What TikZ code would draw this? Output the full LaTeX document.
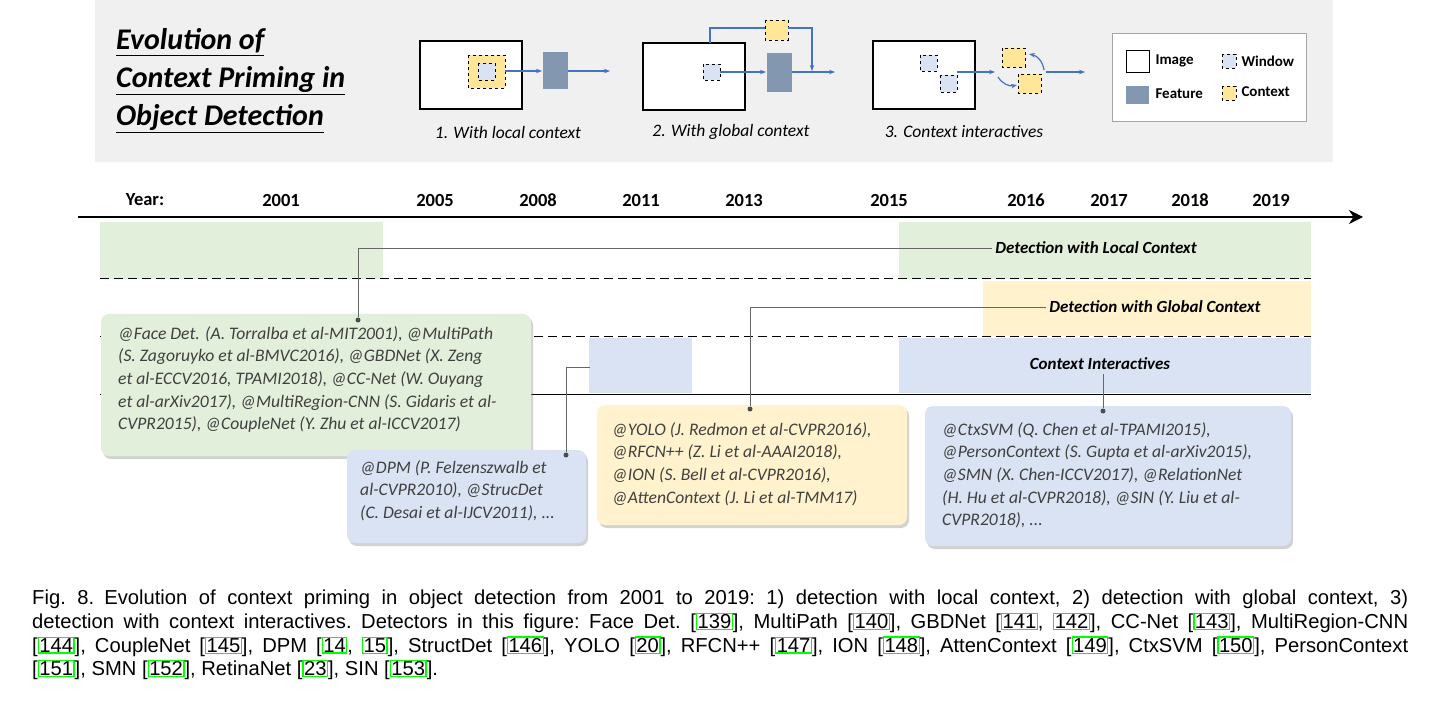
\documentclass[tikz,border=0pt]{standalone}
\usepackage{fontspec}
\setmainfont{Carlito}
\newfontfamily\capfont{Liberation Sans}
\usetikzlibrary{arrows.meta,shadows}
\definecolor{panelbg}{HTML}{F0F0F0}
\definecolor{lgreen}{HTML}{E2EFDA}
\definecolor{lyellow}{HTML}{FFF2CC}
\definecolor{lblue}{HTML}{DAE3F3}
\definecolor{feat}{HTML}{8497B0}
\definecolor{arrblue}{HTML}{4472C4}
\definecolor{ctx}{HTML}{FFE699}
\definecolor{txtgray}{HTML}{404040}
\definecolor{citegreen}{HTML}{00FF00}
\newcommand\rf[1]{\begingroup\setlength\fboxsep{0.3pt}\setlength\fboxrule{1.3pt}\textcolor{citegreen}{\fbox{\textcolor{black}{#1}}}\endgroup}
\tikzset{
 img/.style={draw=black,line width=1.1pt,fill=white},
 win/.style={draw=black,dashed,line width=0.9pt,fill=lblue},
 ctxbox/.style={draw=black,dashed,line width=0.9pt,fill=ctx},
 featbox/.style={fill=feat},
 barr/.style={draw=arrblue,line width=1.2pt,-{Stealth[length=6pt]}},
 yr/.style={font=\bfseries\fontsize{18.5}{20}\selectfont},
 card/.style={rounded corners=8pt,drop shadow={shadow xshift=2pt,shadow yshift=-3pt,opacity=0.35}},
 cardtxt/.style={anchor=north west,align=left,inner sep=0pt,text=txtgray,font=\itshape\fontsize{17.6}{22.7}\selectfont},
 conn/.style={draw=gray!80!black,line width=0.8pt},
 dot/.style={circle,fill=gray!60!black,inner sep=0pt,minimum size=5pt},
 band/.style={font=\bfseries\itshape\fontsize{17}{20}\selectfont},
 sub/.style={font=\itshape\fontsize{17.5}{20}\selectfont},
 leg/.style={anchor=west,font=\bfseries\fontsize{15}{16}\selectfont},
}
\begin{document}
\begin{tikzpicture}[x=1pt,y=-1pt]
\useasboundingbox (0,0) rectangle (1438,711);
\fill[white] (0,0) rectangle (1438,711);
% top panel
\fill[panelbg] (95,0) rectangle (1333,162);
\node[anchor=west,align=left,inner sep=0pt,font=\bfseries\itshape\fontsize{30}{38}\selectfont] (title) at (116,81) {\underline{Evolution of}\\\underline{Context Priming in}\\\underline{Object Detection}};
% panel 1
\draw[img] (420,41) rectangle (522,109);
\draw[ctxbox] (468,55) rectangle (505,88);
\draw[win] (478,63) rectangle (495,80);
\fill[featbox] (543,52) rectangle (568,89);
\coordinate (p1a) at (505,71); \coordinate (p1b) at (542,71);
\draw[barr] (p1a) -- (p1b);
\coordinate (p1c) at (568,71); \coordinate (p1d) at (610,71);
\draw[barr] (p1c) -- (p1d);
\node[sub] (c1) at (508,132) {1. With local context};
% panel 2
\draw[img] (643,43) rectangle (745,110);
\draw[win] (703,64) rectangle (720,80);
\fill[featbox] (767,53) rectangle (792,92);
\draw[ctxbox] (765,20) rectangle (788,40);
\draw[barr] (720,72) -- (766,72);
\draw[barr] (792,72) -- (835,72);
\draw[draw=arrblue,line width=1.2pt] (710,43) -- (710,28) -- (765,28);
\draw[barr] (788,28) -- (812,28) -- (812,71);
\node[sub] (c2) at (731,132) {2. With global context};
% panel 3
\draw[img] (873,41) rectangle (975,109);
\draw[win] (920,55) rectangle (937,71);
\draw[win] (940,75) rectangle (957,92);
\draw[ctxbox] (1002,48) rectangle (1025,67);
\draw[ctxbox] (1018,74) rectangle (1041,93);
\draw[barr] (957,72) -- (995,72);
\draw[barr] (998,77) to[bend right=35] (1017,85);
\draw[barr] (1044,70) to[bend right=35] (1029,54);
\draw[barr] (1046,72) -- (1085,72);
\node[sub] (c3) at (964,132) {3. Context interactives};
% legend
\draw[draw=gray!70,line width=1pt,fill=white] (1112,34) rectangle (1306,122);
\draw[draw=black,line width=1pt] (1126,51) rectangle (1149,73);
\node[leg] (lim) at (1152,61) {Image};
\fill[featbox] (1126,86) rectangle (1149,104);
\node[leg] (lfe) at (1152,94) {Feature};
\draw[win] (1222,54) rectangle (1236,68);
\node[leg] (lwi) at (1238,61) {Window};
\draw[ctxbox] (1222,86) rectangle (1236,100);
\node[leg] (lco) at (1238,92) {Context};
% bands
\fill[lgreen] (100,222) rectangle (383,279);
\fill[lgreen] (899,222) rectangle (1311,279);
\fill[lyellow] (983,281) rectangle (1311,336);
\fill[lblue] (589,338) rectangle (692,393);
\fill[lblue] (899,338) rectangle (1311,393);
\draw[dashed,dash pattern=on 9pt off 5pt,line width=1pt] (100,279) -- (1311,279);
\draw[dashed,dash pattern=on 9pt off 5pt,line width=1pt] (100,337) -- (1311,337);
\draw[line width=1pt] (100,394) -- (1311,394);
% timeline
\coordinate (tl0) at (78,217); \coordinate (tl1) at (1363,217);
\draw[line width=2.5pt,-{Stealth[length=14pt,width=14pt]}] (tl0) -- (tl1);
\foreach \x/\t in {145/Year:,281/2001,435/2005,538/2008,641/2011,744/2013,889/2015,1026/2016,1109/2017,1190/2018,1271/2019}
  \node[yr] at (\x,200) {\t};
\node[band] (bl) at (1096,248) {Detection with Local Context};
\node[band] (bg) at (1155,307) {Detection with Global Context};
\node[band] (bi) at (1100,364) {Context Interactives};
% cards
\fill[lgreen,card] (101,314) rectangle (531,456);
\node[cardtxt] (t1) at (118,326) {@Face Det. (A. Torralba et al-MIT2001), @MultiPath\\(S. Zagoruyko et al-BMVC2016), @GBDNet (X. Zeng\\et al-ECCV2016, TPAMI2018), @CC-Net (W. Ouyang\\et al-arXiv2017), @MultiRegion-CNN (S. Gidaris et al-\\CVPR2015), @CoupleNet (Y. Zhu et al-ICCV2017)};
\fill[lblue,card] (347,450) rectangle (586,543);
\node[cardtxt] (t2) at (360,460) {@DPM (P. Felzenszwalb et\\al-CVPR2010), @StrucDet\\(C. Desai et al-IJCV2011), ...};
\fill[lyellow,card] (597,405) rectangle (907,525);
\node[cardtxt] (t3) at (612,422) {@YOLO (J. Redmon et al-CVPR2016),\\@RFCN++ (Z. Li et al-AAAI2018),\\@ION (S. Bell et al-CVPR2016),\\@AttenContext (J. Li et al-TMM17)};
\fill[lblue,card] (925,406) rectangle (1291,546);
\node[cardtxt] (t4) at (942,422) {@CtxSVM (Q. Chen et al-TPAMI2015),\\@PersonContext (S. Gupta et al-arXiv2015),\\@SMN (X. Chen-ICCV2017), @RelationNet\\(H. Hu et al-CVPR2018), @SIN (Y. Liu et al-\\CVPR2018), ...};
% connectors
\node[dot] (d1) at (358,320) {};
\draw[conn] (d1) |- (bl.west);
\node[dot] (d2) at (566,455) {};
\draw[conn] (d2) |- (590,367);
\node[dot] (d3) at (750,409) {};
\draw[conn] (d3) |- (bg.west);
\node[dot] (d4) at (1103,411) {};
\draw[conn] (d4) -- (bi.south -| d4);
% caption
\node[anchor=north west,inner sep=0pt,text width=1376pt,align=justify,font=\capfont\fontsize{20.2}{23.6}\selectfont\frenchspacing] (cap) at (32,590) {Fig.~8.\enspace Evolution of context priming in object detection from 2001 to 2019: 1) detection with local context, 2) detection with global context, 3)\linebreak{} detection with context interactives. Detectors in this figure: Face Det. [\rf{139}], MultiPath [\rf{140}], GBDNet [\rf{141}, \rf{142}], CC-Net [\rf{143}], MultiRegion-CNN\linebreak{} [\rf{144}], CoupleNet [\rf{145}], DPM [\rf{14}, \rf{15}], StructDet [\rf{146}], YOLO [\rf{20}], RFCN++ [\rf{147}], ION [\rf{148}], AttenContext [\rf{149}], CtxSVM [\rf{150}], PersonContext\linebreak{} [\rf{151}], SMN [\rf{152}], RetinaNet [\rf{23}], SIN [\rf{153}].};
\end{tikzpicture}
\end{document}
